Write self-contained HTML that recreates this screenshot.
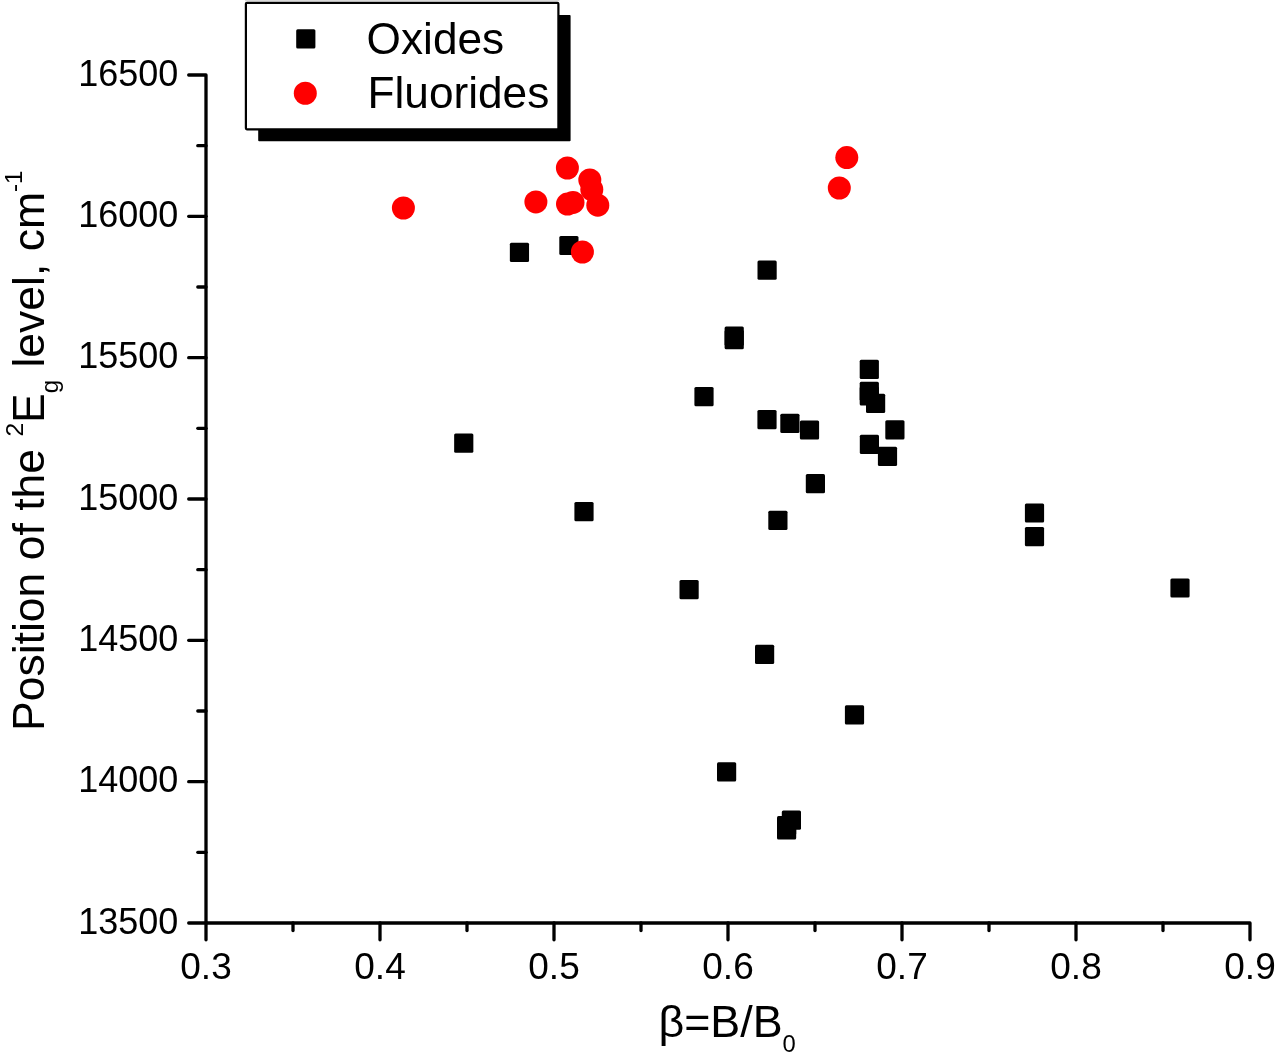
<!DOCTYPE html><html><head><meta charset="utf-8"><style>html,body{margin:0;padding:0;background:#fff;width:1280px;height:1059px;overflow:hidden}svg{display:block}text{font-family:"Liberation Sans",Arial,Helvetica,sans-serif;fill:#000}</style></head><body>
<svg width="1280" height="1059" viewBox="0 0 1280 1059">
<rect x="0" y="0" width="1280" height="1059" fill="#fff"/>
<g stroke="#000" stroke-width="3.3" stroke-linecap="round" stroke-linejoin="round" fill="none">
<path d="M188.7,75.0 H206.0 V923.0 H1250.00 V939.8"/>
<path d="M188.7,216.33 H206.0"/>
<path d="M188.7,357.67 H206.0"/>
<path d="M188.7,499.00 H206.0"/>
<path d="M188.7,640.33 H206.0"/>
<path d="M188.7,781.67 H206.0"/>
<path d="M188.7,923.00 H206.0"/>
<path d="M197.8,145.67 H206.0"/>
<path d="M197.8,287.00 H206.0"/>
<path d="M197.8,428.33 H206.0"/>
<path d="M197.8,569.67 H206.0"/>
<path d="M197.8,711.00 H206.0"/>
<path d="M197.8,852.33 H206.0"/>
<path d="M206.00,923.0 V939.8"/>
<path d="M380.00,923.0 V939.8"/>
<path d="M554.00,923.0 V939.8"/>
<path d="M728.00,923.0 V939.8"/>
<path d="M902.00,923.0 V939.8"/>
<path d="M1076.00,923.0 V939.8"/>
<path d="M293.00,923.0 V930.5"/>
<path d="M467.00,923.0 V930.5"/>
<path d="M641.00,923.0 V930.5"/>
<path d="M815.00,923.0 V930.5"/>
<path d="M989.00,923.0 V930.5"/>
<path d="M1163.00,923.0 V930.5"/>
</g>
<g font-size="36">
<text transform="translate(178.3,85.80) scale(1.0,1)" text-anchor="end">16500</text>
<text transform="translate(178.3,227.13) scale(1.0,1)" text-anchor="end">16000</text>
<text transform="translate(178.3,368.47) scale(1.0,1)" text-anchor="end">15500</text>
<text transform="translate(178.3,509.80) scale(1.0,1)" text-anchor="end">15000</text>
<text transform="translate(178.3,651.13) scale(1.0,1)" text-anchor="end">14500</text>
<text transform="translate(178.3,792.47) scale(1.0,1)" text-anchor="end">14000</text>
<text transform="translate(178.3,933.80) scale(1.0,1)" text-anchor="end">13500</text>
<text x="206.00" y="978.8" font-size="37" text-anchor="middle">0.3</text>
<text x="380.00" y="978.8" font-size="37" text-anchor="middle">0.4</text>
<text x="554.00" y="978.8" font-size="37" text-anchor="middle">0.5</text>
<text x="728.00" y="978.8" font-size="37" text-anchor="middle">0.6</text>
<text x="902.00" y="978.8" font-size="37" text-anchor="middle">0.7</text>
<text x="1076.00" y="978.8" font-size="37" text-anchor="middle">0.8</text>
<text x="1250.00" y="978.8" font-size="37" text-anchor="middle">0.9</text>
</g>
<text x="658.4" y="1036.9" font-size="44.8">β=B/B<tspan font-size="23.8" dy="15.3">0</tspan></text>
<text transform="translate(43.8,731) rotate(-90)" font-size="44.5">Position of the <tspan font-size="24.6" dy="-20.5">2</tspan><tspan dy="20.5">E</tspan><tspan font-size="24" dy="14">g</tspan><tspan dy="-14"> level, cm</tspan><tspan font-size="24" dy="-21.6">-1</tspan></text>
<g fill="#000">
<rect x="454.15" y="433.50" width="19.2" height="19.2" rx="1.5"/>
<rect x="509.85" y="242.70" width="19.2" height="19.2" rx="1.5"/>
<rect x="559.30" y="235.90" width="19.2" height="19.2" rx="1.5"/>
<rect x="574.40" y="502.00" width="19.2" height="19.2" rx="1.5"/>
<rect x="679.50" y="580.00" width="19.2" height="19.2" rx="1.5"/>
<rect x="694.40" y="387.10" width="19.2" height="19.2" rx="1.5"/>
<rect x="717.00" y="762.30" width="19.2" height="19.2" rx="1.5"/>
<rect x="724.60" y="326.50" width="19.2" height="19.2" rx="1.5"/>
<rect x="724.60" y="330.10" width="19.2" height="19.2" rx="1.5"/>
<rect x="755.00" y="644.80" width="19.2" height="19.2" rx="1.5"/>
<rect x="757.50" y="260.60" width="19.2" height="19.2" rx="1.5"/>
<rect x="757.40" y="410.10" width="19.2" height="19.2" rx="1.5"/>
<rect x="768.30" y="510.80" width="19.2" height="19.2" rx="1.5"/>
<rect x="780.30" y="413.70" width="19.2" height="19.2" rx="1.5"/>
<rect x="781.80" y="810.50" width="19.2" height="19.2" rx="1.5"/>
<rect x="777.00" y="816.00" width="19.2" height="19.2" rx="1.5"/>
<rect x="777.00" y="820.40" width="19.2" height="19.2" rx="1.5"/>
<rect x="799.90" y="420.40" width="19.2" height="19.2" rx="1.5"/>
<rect x="805.80" y="474.10" width="19.2" height="19.2" rx="1.5"/>
<rect x="844.90" y="705.20" width="19.2" height="19.2" rx="1.5"/>
<rect x="859.70" y="359.70" width="19.2" height="19.2" rx="1.5"/>
<rect x="859.70" y="381.70" width="19.2" height="19.2" rx="1.5"/>
<rect x="859.70" y="386.40" width="19.2" height="19.2" rx="1.5"/>
<rect x="866.00" y="393.80" width="19.2" height="19.2" rx="1.5"/>
<rect x="859.80" y="434.70" width="19.2" height="19.2" rx="1.5"/>
<rect x="877.90" y="446.80" width="19.2" height="19.2" rx="1.5"/>
<rect x="885.30" y="420.20" width="19.2" height="19.2" rx="1.5"/>
<rect x="1024.90" y="503.40" width="19.2" height="19.2" rx="1.5"/>
<rect x="1024.90" y="527.10" width="19.2" height="19.2" rx="1.5"/>
<rect x="1170.40" y="578.40" width="19.2" height="19.2" rx="1.5"/>
</g><g fill="#f00">
<circle cx="403.4" cy="208" r="11.5"/>
<circle cx="535.9" cy="201.9" r="11.5"/>
<circle cx="567.4" cy="168" r="11.5"/>
<circle cx="567.5" cy="204.1" r="11.5"/>
<circle cx="573" cy="202.4" r="11.5"/>
<circle cx="589.8" cy="180" r="11.5"/>
<circle cx="591.8" cy="189.5" r="11.5"/>
<circle cx="597.8" cy="205.2" r="11.5"/>
<circle cx="582.4" cy="252" r="11.5"/>
<circle cx="846.8" cy="157.6" r="11.5"/>
<circle cx="839.3" cy="188" r="11.5"/>
</g>
<rect x="245" y="0" width="314.5" height="1.3" fill="#d9d9d9"/>
<rect x="258.2" y="15" width="312.4" height="126.2" rx="1" fill="#000"/>
<rect x="245.9" y="2.85" width="312.5" height="126.45" rx="1" fill="#fff" stroke="#000" stroke-width="2.2"/>
<rect x="296.20" y="29.20" width="19.2" height="19.2" rx="1.5" fill="#000"/>
<circle cx="305.3" cy="93.25" r="11.5" fill="#f00"/>
<text x="366.6" y="54.3" font-size="44.2">Oxides</text>
<text x="367.5" y="108.2" font-size="44.2">Fluorides</text>
</svg></body></html>
